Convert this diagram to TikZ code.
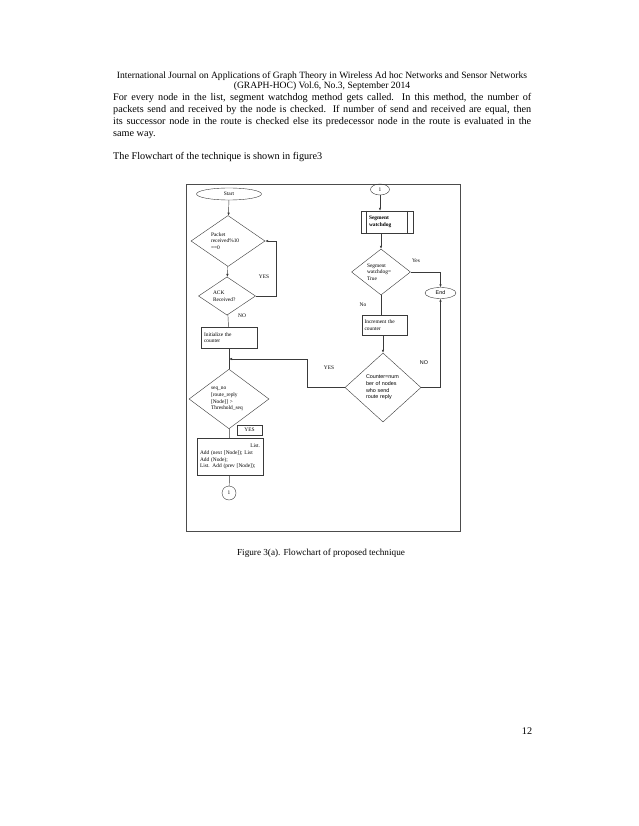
\documentclass[tikz,border=0pt]{standalone}
\usepackage{fontspec}
\setmainfont{Liberation Serif}
\setsansfont{Liberation Sans}
\usepackage{tikz}
\usetikzlibrary{arrows.meta,positioning,shapes.geometric}
\definecolor{inkgray}{HTML}{3A3A3A}
\newcommand{\flowfont}{\fontsize{5.4}{6.6}\selectfont}
\tikzset{
  terminal/.style={draw=inkgray, ellipse, inner sep=0pt, font=\flowfont},
  decision/.style={draw=inkgray, diamond, inner sep=0pt, align=left, font=\flowfont},
  procbox/.style={draw=inkgray, rectangle, inner sep=1.5pt, align=left, font=\flowfont},
  lbl/.style={inner sep=0pt, font=\flowfont},
  arrow/.style={-{Latex[length=3pt,width=2.4pt]}, draw=inkgray, line width=0.45pt},
  link/.style={draw=inkgray, line width=0.45pt}
}

\begin{document}
\begin{tikzpicture}[x=1pt, y=-1pt]
  \useasboundingbox (0,0) rectangle (638,826);
  \fill[white] (0,0) rectangle (638,826);

  % page text
  \node[align=center, font=\fontsize{9.6}{10.6}\selectfont, inner sep=0pt] (header) at (322,81)
  {International Journal on Applications of Graph Theory in Wireless Ad hoc Networks and Sensor Networks\\(GRAPH-HOC) Vol.6, No.3, September 2014};
  \node[anchor=north west, text width=418pt, align=justify, inner sep=0pt, font=\fontsize{10.2}{12}\selectfont] (para) at (113,93)
  {For every node in the list, segment watchdog method gets called. In this method, the number of\linebreak
   packets send and received by the node is checked. If number of send and received are equal, then\linebreak
   its successor node in the route is checked else its predecessor node in the route is evaluated in the\linebreak
   same way.};
  \node[anchor=west, inner sep=0pt, font=\fontsize{10.2}{12}\selectfont] (intro) at (113,157)
  {The Flowchart of the technique is shown in figure3};

  % figure frame
  \draw[black!70, line width=0.6pt] (186,184) rectangle (460,531);

  % left column
  \node[terminal, minimum width=65pt, minimum height=12pt] (start) at (229,194) {Start};
  \node[decision, minimum width=74pt, minimum height=44pt, text width=34pt] (pkt) at (228,241)
  {Packet\\received\%10\\==0};
  \node[decision, minimum width=57pt, minimum height=37pt, text width=28pt] (ack) at (227,296)
  {ACK\\Received?};
  \node[procbox, minimum width=56pt, minimum height=21pt, text width=50pt] (init) at (229,337.5)
  {Initialize the\\counter};
  \coordinate (join) at (229,359);
  \node[decision, minimum width=80pt, minimum height=58pt, text width=36pt] (seq) at (229,399)
  {seq\_no\\{[}route\_reply\\{[}Node{]}{]} >\\Threshold\_seq};
  \node[procbox, minimum width=25pt, minimum height=10pt, align=center, inner sep=0pt] (yesbox) at (249.5,430) {YES};
  \node[procbox, minimum width=66pt, minimum height=37pt, text width=60pt] (list) at (230,456.5)
  {\hfill List.\hspace*{8pt}\\Add (next [Node]); List\\Add (Node);\\List. Add (prev [Node]);};
  \node[terminal, circle, minimum size=14pt] (endA) at (229,493) {1};

  \draw[arrow] (start) -- (pkt);
  \draw[arrow] (pkt) -- (ack);
  \draw[arrow] (ack.east) -- (276,296) -- (276,241) -- (pkt.east);
  \node[lbl] (yesA) at (264,277) {YES};
  \draw[link] (ack) -- (init);
  \node[lbl] (noA) at (242,316) {NO};
  \draw[link] (init) -- (seq);
  \draw[link] (seq) -- (list);
  \draw[link] (list) -- (endA);

  % right column
  \node[terminal, minimum width=19pt, minimum height=11pt] (startB) at (380,189.5) {1};
  \node[procbox, minimum width=52pt, minimum height=22pt, text width=36pt, font=\flowfont\bfseries] (seg) at (387,222)
  {Segment\\watchdog};
  \draw[link] ([xshift=5pt]seg.north west) -- ([xshift=5pt]seg.south west);
  \draw[link] ([xshift=-6pt]seg.north east) -- ([xshift=-6pt]seg.south east);
  \node[decision, minimum width=59pt, minimum height=46pt, text width=28pt] (segok) at (381,272)
  {Segment\\watchdog=\\True};
  \node[terminal, minimum width=31pt, minimum height=11pt, font=\flowfont\sffamily] (stop) at (440.5,293) {End};
  \node[procbox, minimum width=45pt, minimum height=20pt, text width=40pt] (inc) at (384.5,325)
  {Increment the\\counter};
  \node[decision, minimum width=76pt, minimum height=69pt, text width=34pt, font=\flowfont\sffamily] (cnt) at (383,387.5)
  {Counter=num\\ber of nodes\\who send\\route reply};

  \draw[arrow] (startB) -- (startB.south |- seg.north);
  \draw[arrow] (segok.north |- seg.south) -- (segok.north);
  \draw[arrow] (segok.east) -- (440.5,272) -- (stop.north);
  \node[lbl] (yesB) at (416,261) {Yes};
  \draw[link] (segok.south) -- (segok.south |- inc.north);
  \node[lbl] (noB) at (363,305) {No};
  \draw[arrow] (cnt.north |- inc.south) -- (cnt.north);
  \draw[arrow] (cnt.east) -- (440.5,387.5) -- (stop.south);
  \node[lbl, font=\flowfont\sffamily] (noC) at (424,363) {NO};
  \draw[arrow] (cnt.west) -- (307,387.5) -- (307,359) -- (join);
  \node[lbl] (yesC) at (329,368) {YES};

  % caption and page number
  \node[inner sep=0pt, font=\fontsize{9.2}{11}\selectfont] (caption) at (321,553)
  {Figure 3(a). Flowchart of proposed technique};
  \node[inner sep=0pt, font=\fontsize{10.2}{12}\selectfont] (pageno) at (527,731) {12};
\end{tikzpicture}
\end{document}
